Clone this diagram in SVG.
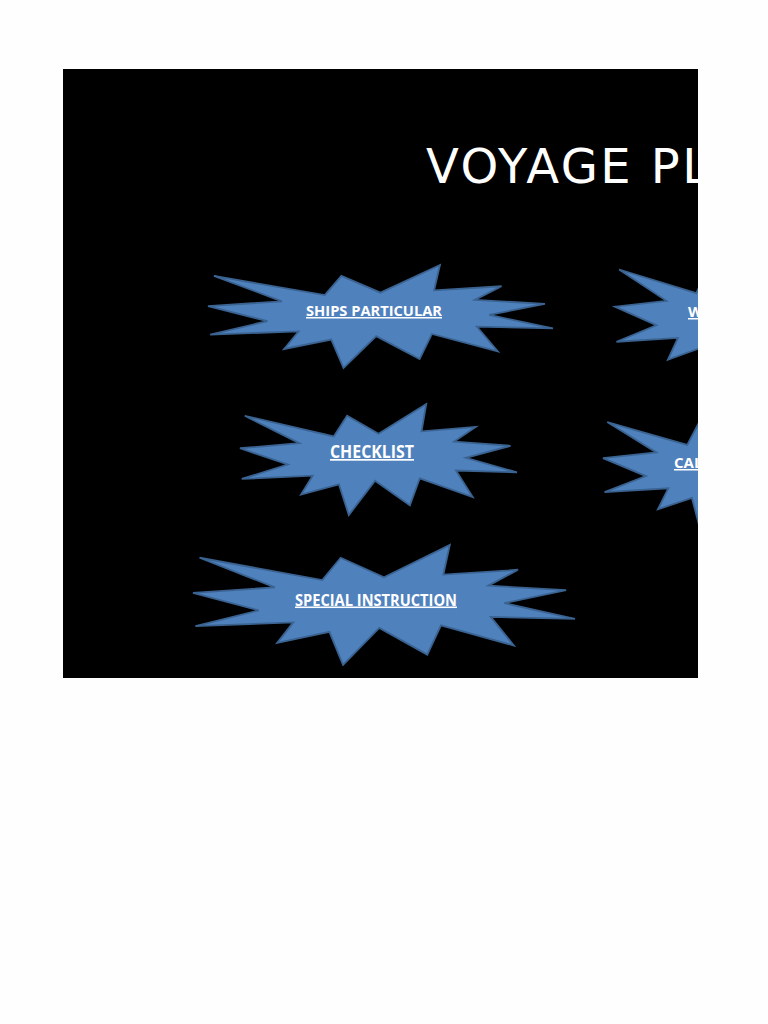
<svg xmlns="http://www.w3.org/2000/svg" xmlns:xlink="http://www.w3.org/1999/xlink" width="768" height="1024" viewBox="0 0 768 1024">
  <style>
    .seal { fill: #4F81BD; stroke: #3A6391; stroke-width: 1.8; stroke-linejoin: miter; }
    .lbl { font-family: "Open Sans", "Liberation Sans", sans-serif; font-weight: bold; fill: #FFFFFF; text-anchor: middle; text-decoration: underline; }
    .title { font-family: "DejaVu Sans", "Liberation Sans", sans-serif; fill: #FFFFFF; }
  </style>
  <defs>
    <clipPath id="panel">
      <rect x="63" y="69" width="635" height="609"/>
    </clipPath>
    <polygon id="seal" vector-effect="non-scaling-stroke" points="10800,5800 14522,0 14155,5325 18380,4457 16702,7315 21097,8137 17607,10475 21600,13290 16837,12942 18145,18095 14020,14457 13247,19737 10532,14935 8485,21600 7715,15627 4762,17617 5667,13937 135,14587 3722,11775 0,8615 4627,7617 370,2295 7312,6320 8352,2295"/>
  </defs>
  <rect x="0" y="0" width="768" height="1024" fill="#FEFEFE"/>
  <rect x="63" y="69" width="635" height="609" fill="#000000"/>
  <g clip-path="url(#panel)">
    <text class="title" x="426" y="183" font-size="48" textLength="283" lengthAdjust="spacing">VOYAGE PL</text>
    <g id="connectors"/>
    <g id="ships-particular">
      <use xlink:href="#seal" class="seal" transform="translate(208,265) scale(0.015972,0.0047685)"/>
      <text class="lbl" x="374" y="316" font-size="15" textLength="136" lengthAdjust="spacingAndGlyphs">SHIPS PARTICULAR</text>
    </g>
    <g id="checklist">
      <use xlink:href="#seal" class="seal" transform="translate(240,404) scale(0.012824,0.0051389)"/>
      <text class="lbl" x="372" y="458" font-size="17" textLength="84" lengthAdjust="spacingAndGlyphs">CHECKLIST</text>
    </g>
    <g id="special-instruction">
      <use xlink:href="#seal" class="seal" transform="translate(193,545) scale(0.017685,0.0055556)"/>
      <text class="lbl" x="376" y="605.5" font-size="15.5" textLength="162" lengthAdjust="spacingAndGlyphs">SPECIAL INSTRUCTION</text>
    </g>
    <g id="w-node">
      <use xlink:href="#seal" class="seal" transform="translate(615,256) scale(0.011111,0.0058796)"/>
      <text class="lbl" x="688" y="317" font-size="15" style="text-anchor:start">W</text>
    </g>
    <g id="cal-node">
      <use xlink:href="#seal" class="seal" transform="translate(603,409) scale(0.011528,0.0056944)"/>
      <text class="lbl" x="674" y="468" font-size="15" style="text-anchor:start">CAL</text>
    </g>
  </g>
</svg>
